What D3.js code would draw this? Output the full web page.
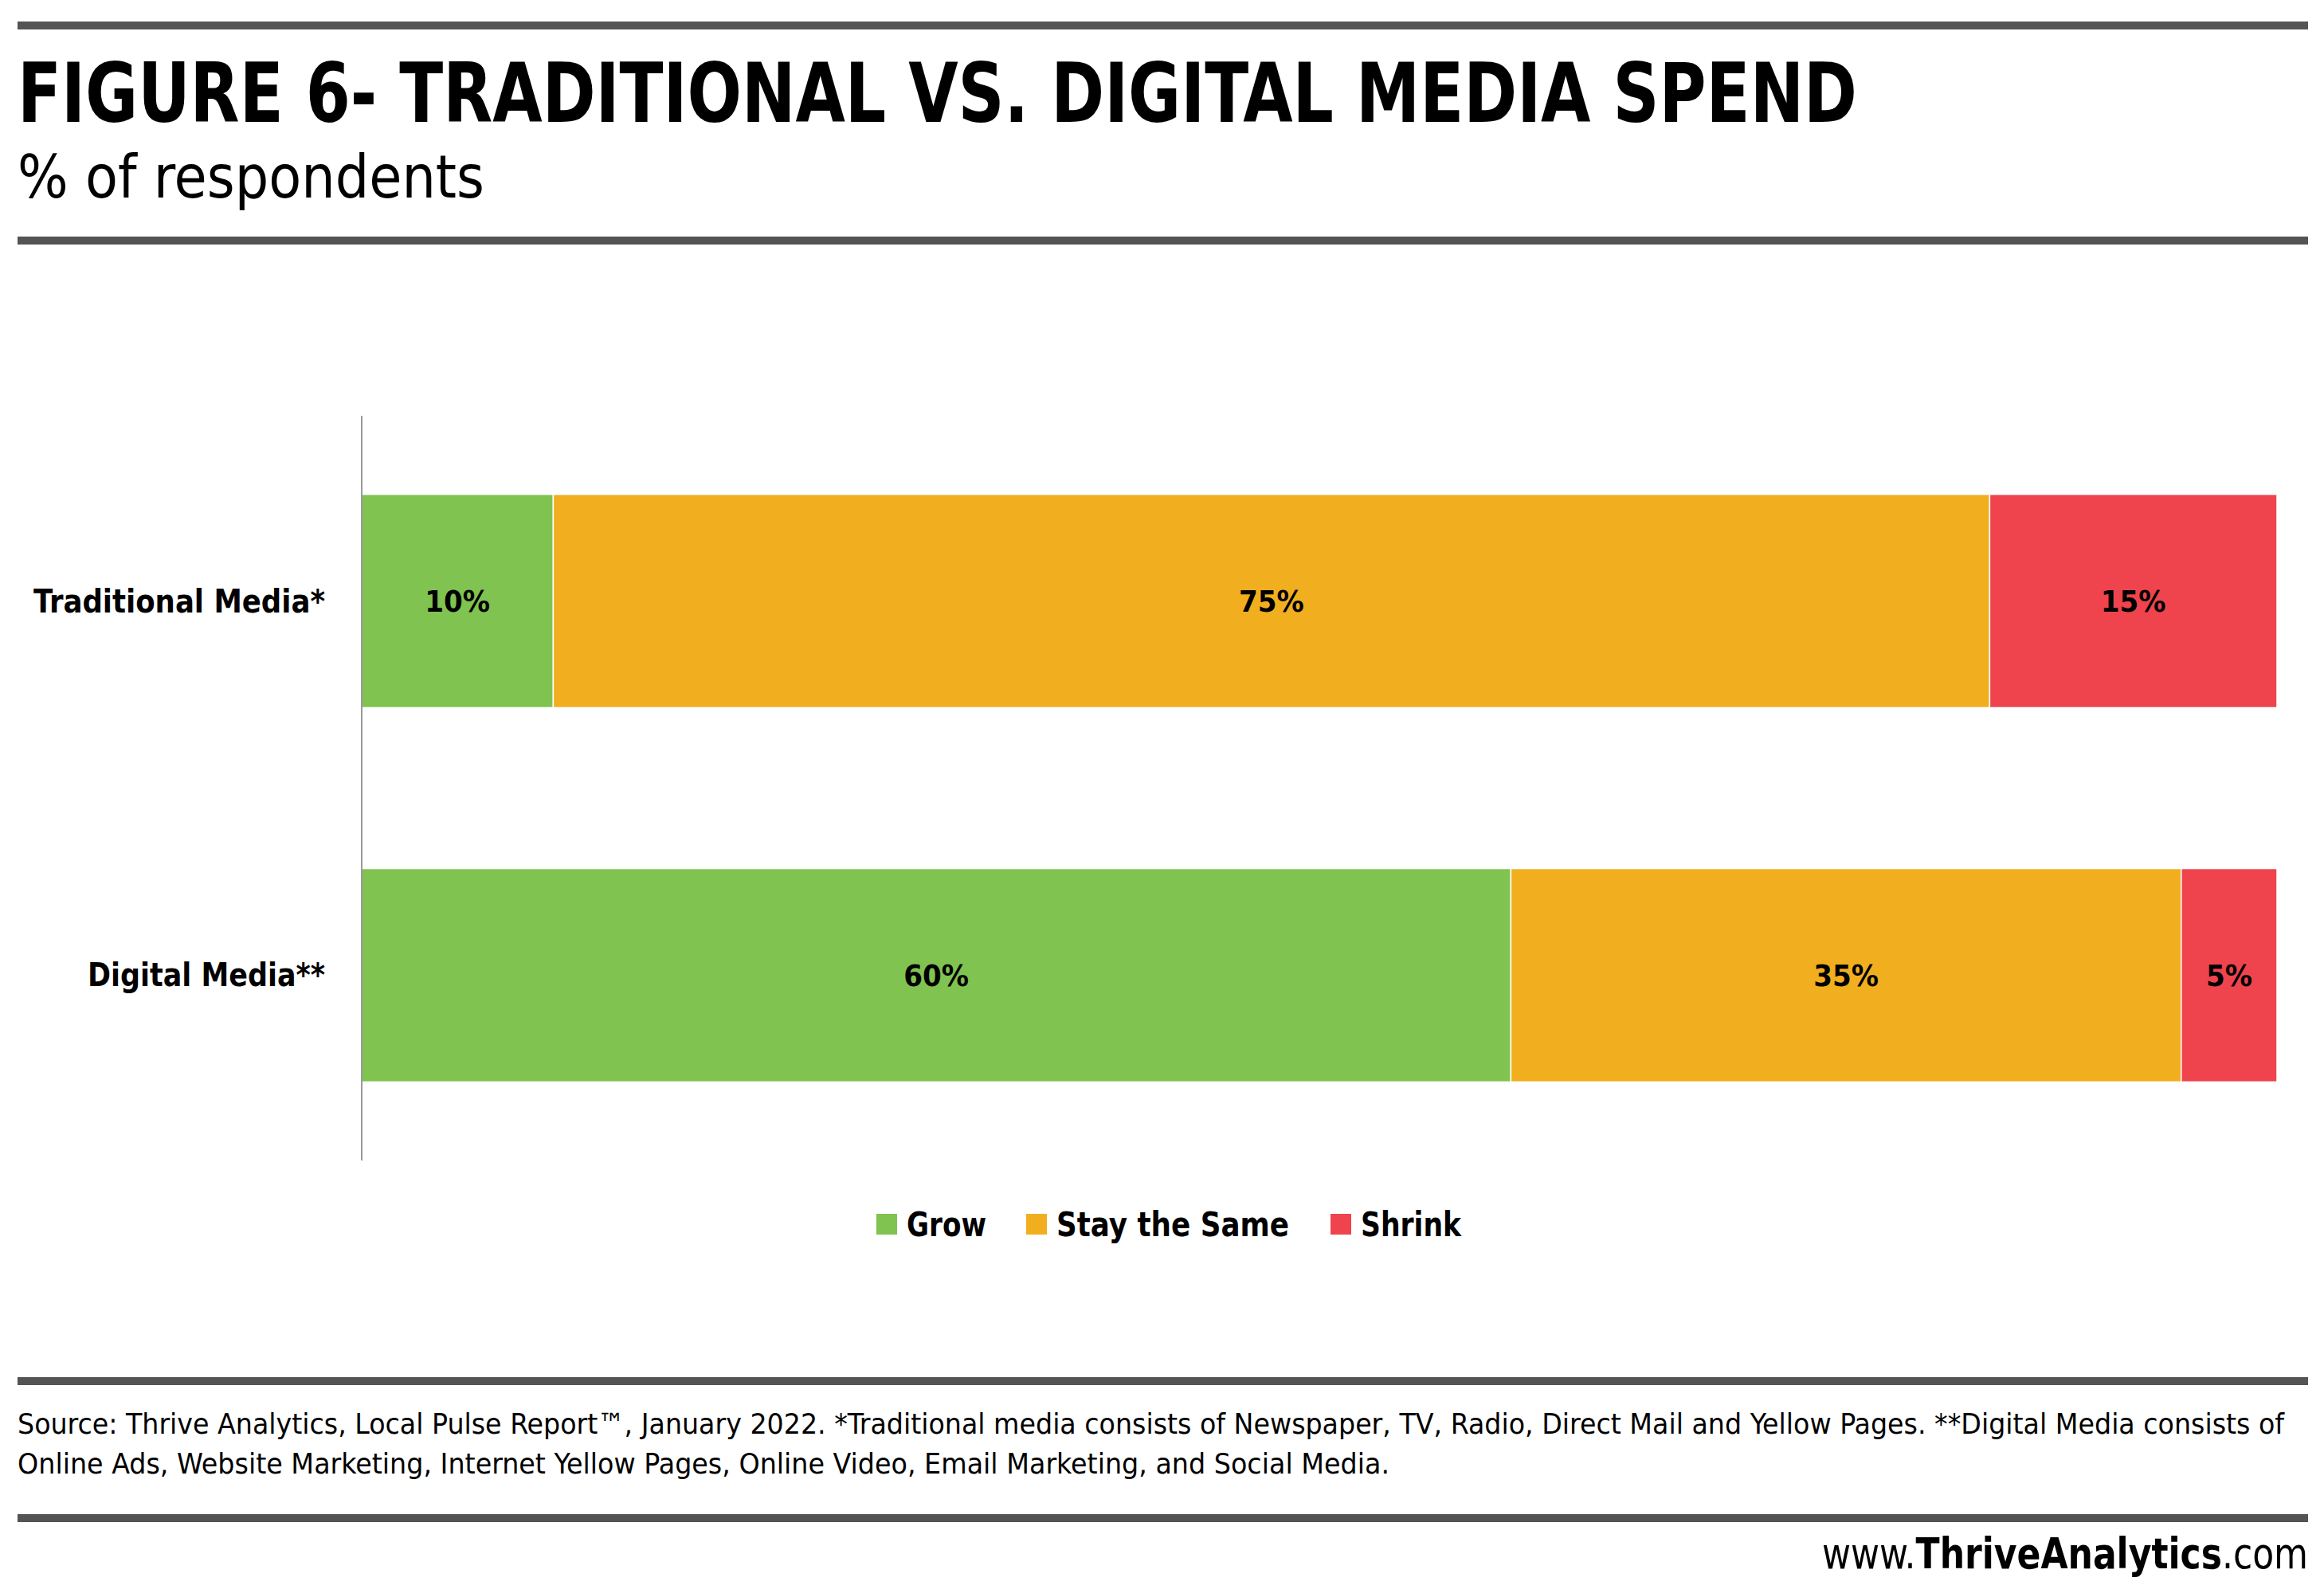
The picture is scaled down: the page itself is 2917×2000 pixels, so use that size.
<!DOCTYPE html><html><head><meta charset="utf-8"><script src="https://cdn.jsdelivr.net/npm/d3@7"></script>
<style>body{margin:0;background:#fff}</style></head><body><svg id="c" width="2917" height="2000"></svg>
<script>
const categories=["Traditional Media*","Digital Media**"];
const seriesNames=["Grow","Stay the Same","Shrink"];
const grow=[10,60];
const stay=[75,35];
const shrink=[15,5];
const colors=["#80c350","#f1af1f","#ef444d"];
const svg=d3.select("#c");
const F="'DejaVu Sans Condensed','Roboto Condensed','Liberation Sans Narrow',sans-serif";
[32,302,1734,1906].forEach(y=>svg.append("rect").attr("x",22).attr("y",y-5).attr("width",2875).attr("height",10).attr("fill","#545454"));
svg.append("text").attr("x",22).attr("y",153).attr("font-family",F).attr("font-weight","bold").attr("font-size",104).attr("textLength",2309).attr("lengthAdjust","spacingAndGlyphs").text("FIGURE 6- TRADITIONAL VS. DIGITAL MEDIA SPEND");
svg.append("text").attr("x",22).attr("y",248).attr("font-family",F).attr("font-weight",300).attr("font-size",74).attr("textLength",586).attr("lengthAdjust","spacingAndGlyphs").text("% of respondents");
const x=d3.scaleLinear().domain([0,100]).range([454,2858]);
const y=d3.scaleBand().domain(categories).range([522,1457]).paddingInner(0.43).paddingOuter(0.21);
const series=[grow,stay,shrink];
categories.forEach((c,i)=>{let acc=0;series.forEach((s,k)=>{const v=s[i];
svg.append("rect").attr("x",x(acc)).attr("y",y(c)).attr("width",x(acc+v)-x(acc)).attr("height",y.bandwidth()).attr("fill",colors[k]).attr("stroke","#fff").attr("stroke-width",1.5);
svg.append("text").attr("x",(x(acc)+x(acc+v))/2).attr("y",y(c)+y.bandwidth()/2).attr("dy","0.35em").attr("text-anchor","middle").attr("font-family",F).attr("font-weight","bold").attr("font-size",38).text(v+"%");
acc+=v;});
svg.append("text").attr("x",408).attr("y",y(c)+y.bandwidth()/2).attr("dy","0.35em").attr("text-anchor","end").attr("font-family",F).attr("font-weight","bold").attr("font-size",40).attr("textLength",c.length>16?366:298).attr("lengthAdjust","spacingAndGlyphs").text(c);});
svg.append("line").attr("x1",454).attr("x2",454).attr("y1",522).attr("y2",1457).attr("stroke","#999").attr("stroke-width",2);
const lx=[1100,1288,1670];
const lw=[100,292,126];
seriesNames.forEach((n,k)=>{svg.append("rect").attr("x",lx[k]).attr("y",1524).attr("width",26).attr("height",26).attr("fill",colors[k]);
svg.append("text").attr("x",lx[k]+38).attr("y",1537).attr("dy","0.35em").attr("font-family",F).attr("font-weight","bold").attr("font-size",42).attr("textLength",lw[k]).attr("lengthAdjust","spacingAndGlyphs").text(n);});
svg.append("text").attr("x",22).attr("y",1800).attr("font-family",F).attr("font-size",36).attr("textLength",2845).attr("lengthAdjust","spacingAndGlyphs").text("Source: Thrive Analytics, Local Pulse Report™, January 2022. *Traditional media consists of Newspaper, TV, Radio, Direct Mail and Yellow Pages. **Digital Media consists of");
svg.append("text").attr("x",22).attr("y",1850).attr("font-family",F).attr("font-size",36).attr("textLength",1722).attr("lengthAdjust","spacingAndGlyphs").text("Online Ads, Website Marketing, Internet Yellow Pages, Online Video, Email Marketing, and Social Media.");
const w=svg.append("text").attr("x",2897).attr("y",1969).attr("text-anchor","end").attr("font-family",F).attr("font-size",54).attr("textLength",610).attr("lengthAdjust","spacingAndGlyphs");
w.append("tspan").text("www.");w.append("tspan").attr("font-weight","bold").text("ThriveAnalytics");w.append("tspan").text(".com");
</script></body></html>
